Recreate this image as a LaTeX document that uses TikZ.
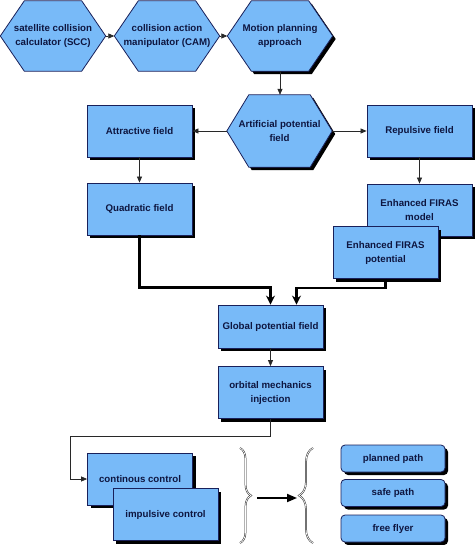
\documentclass[tikz,border=0pt]{standalone}
\usepackage{fontspec}
\setmainfont{Liberation Sans}
\usetikzlibrary{arrows.meta,shadows,backgrounds,decorations.pathreplacing}

\begin{document}
\begin{tikzpicture}[x=1pt,y=-1pt,
    blackshadow/.style={drop shadow={shadow xshift=3pt,shadow yshift=-3pt,fill=black,opacity=1}},
    boxtext/.style={align=center, text=mytext, inner sep=2pt, font=\fontsize{9.7}{14}\selectfont\bfseries},
    box/.style={boxtext, draw=myedge, fill=myfill, line width=0.8pt, minimum width=105pt, minimum height=52pt, blackshadow},
    pathbox/.style={box, rounded corners=4pt, minimum width=104pt, minimum height=27pt},
    hexbox/.style={boxtext, minimum width=105pt, minimum height=70pt},
    hexshape/.style={draw=myedge, fill=myfill, line width=0.8pt},
    link/.style={-{Triangle[length=6pt,width=5pt]}, line width=0.7pt, draw=myline},
    bold link/.style={-{Stealth[length=9pt,width=9pt]}, line width=2.2pt},
    curly/.style={decorate, decoration={brace, amplitude=#1}, draw=black!85, double=white, double distance=0.7pt, line width=0.5pt}]
    \definecolor{myfill}{RGB}{120,186,248}
    \definecolor{myedge}{RGB}{25,32,90}
    \definecolor{mytext}{RGB}{14,22,64}
    \definecolor{myline}{RGB}{40,40,40}

    \useasboundingbox (0,0) rectangle (474,545);

    \node[hexbox] (scc) at (53,36) {satellite collision\\calculator (SCC)};
    \node[hexbox] (cam) at (167,36) {collision action\\manipulator (CAM)};
    \node[hexbox] (mpa) at (280,36) {Motion planning\\approach};
    \node[hexbox, minimum height=72pt] (apf) at (279.5,131) {Artificial potential\\field};

    \begin{scope}[on background layer]
        \foreach \h/\d in {scc/24,cam/24}
            \filldraw[hexshape] (\h.west) -- ([xshift=\d pt]\h.north west) -- ([xshift=-\d pt]\h.north east) -- (\h.east)
                -- ([xshift=-\d pt]\h.south east) -- ([xshift=\d pt]\h.south west) -- cycle;
        \foreach \h/\d in {mpa/24,apf/22}
            \filldraw[hexshape, blackshadow] (\h.west) -- ([xshift=\d pt]\h.north west) -- ([xshift=-\d pt]\h.north east) -- (\h.east)
                -- ([xshift=-\d pt]\h.south east) -- ([xshift=\d pt]\h.south west) -- cycle;
    \end{scope}

    \node[box] (attr) at (139.5,131) {Attractive field};
    \node[box] (rep) at (419.5,131) {Repulsive field};
    \node[box] (quad) at (139.5,209) {Quadratic field};
    \node[box] (firasm) at (419.5,210) {Enhanced FIRAS\\model};
    \node[box] (firasp) at (385.5,252.5) {Enhanced FIRAS\\potential};
    \node[box, minimum height=43pt] (glob) at (270.5,326.5) {Global potential field};
    \node[box] (orb) at (270.5,392.5) {orbital mechanics\\injection};
    \node[box] (cont) at (140,479) {continous control};
    \node[box] (imp) at (165.5,514.5) {impulsive control};
    \node[pathbox] (plan) at (393,458.5) {planned path};
    \node[pathbox] (safe) at (393,493) {safe path};
    \node[pathbox] (free) at (393,528.5) {free flyer};

    \draw[link] (scc) -- (cam);
    \draw[link] (cam) -- (mpa);
    \draw[link] (mpa.south) -- (mpa.south |- apf.north);
    \draw[link] (apf) -- (attr);
    \draw[link] (apf) -- (rep);
    \draw[link] (attr) -- (quad);
    \draw[link] (rep) -- (firasm);
    \draw[bold link] (quad.south) -- ++(0,52) -| (glob.north);
    \draw[bold link] (firasp.south) -- ++(0,9) -| ([xshift=26pt]glob.north);
    \draw[link] (glob) -- (orb);
    \draw[link] (orb.south) -- ++(0,17) -- ++(-200.5,0) |- (cont.west);

    \coordinate (bl) at (257,498);
    \coordinate (br) at (297,498);
    \draw[curly=11pt] (240,448) -- (240,543);
    \draw[curly=14pt] (313,543) -- (313,448);
    \draw[-{Triangle[length=10pt,width=8pt]}, line width=1.8pt] (bl) -- (br);
\end{tikzpicture}
\end{document}
